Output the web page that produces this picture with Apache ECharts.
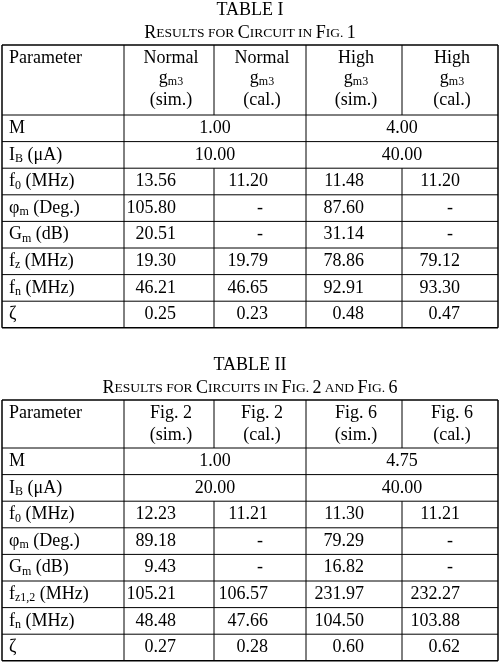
<!DOCTYPE html>
<html><head><meta charset="utf-8">
<script src="https://cdn.jsdelivr.net/npm/echarts@6/dist/echarts.min.js"></script>
<style>html,body{margin:0;background:#fff}#c{width:500px;height:662px}</style>
</head><body><div id="c"></div>
<script>
// === 資料 ===
const t1Title='TABLE I', t1Sub='Results for Circuit in Fig. 1';
const t1Head=[['Normal','g{s|m3}','(sim.)'],['Normal','g{s|m3}','(cal.)'],['High','g{s|m3}','(sim.)'],['High','g{s|m3}','(cal.)']];
const t1Params=['M','I{s|B} (μA)','f{s|0} (MHz)','φ{s|m} (Deg.)','G{s|m} (dB)','f{s|z} (MHz)','f{s|n} (MHz)','ζ'];
const t1Vals=[['1.00','4.00'],['10.00','40.00'],['13.56','11.20','11.48','11.20'],['105.80','-','87.60','-'],
  ['20.51','-','31.14','-'],['19.30','19.79','78.86','79.12'],['46.21','46.65','92.91','93.30'],['0.25','0.23','0.48','0.47']];

const t2Title='TABLE II', t2Sub='Results for Circuits in Fig. 2 and Fig. 6';
const t2Head=[['Fig. 2','(sim.)'],['Fig. 2','(cal.)'],['Fig. 6','(sim.)'],['Fig. 6','(cal.)']];
const t2Params=['M','I{s|B} (μA)','f{s|0} (MHz)','φ{s|m} (Deg.)','G{s|m} (dB)','f{s|z1,2} (MHz)','f{s|n} (MHz)','ζ'];
const t2Vals=[['1.00','4.75'],['20.00','40.00'],['12.23','11.21','11.30','11.21'],['89.18','-','79.29','-'],
  ['9.43','-','16.82','-'],['105.21','106.57','231.97','232.27'],['48.48','47.66','104.50','103.88'],['0.27','0.28','0.60','0.62']];

// === 版面 ===
const COLS=[2,124,214,306,402,498];
const FONT='"Liberation Serif","DejaVu Serif",serif';
const RICH={s:{fontSize:12,fontFamily:FONT,verticalAlign:'top',padding:[9,0,0,0],lineHeight:22},
  n:{fontSize:18,fontFamily:FONT,lineHeight:22}};

function txt(x,y,s,align,size){
  // 把普通字段包成 {n|...} 以便 rich 對齊
  var r=s.replace(/([^{}|]+)(?=\{|$)/g,function(m){return '{n|'+m+'}';});
  r=r.replace(/\{n\|([^}]*)\}(?=[^{]*\})/g,'$1');
  return {type:'text',x:x,y:y,style:{text:fix(s),rich:Object.assign({},RICH,size?{n:{fontSize:size,fontFamily:FONT,lineHeight:22}}:{}),
    fill:'#000',align:align||'center',verticalAlign:'middle'}};
}
function fix(s){
  // 拆成 token
  var out='',re=/\{s\|([^}]*)\}/g,last=0,m;
  while((m=re.exec(s))){ if(m.index>last) out+='{n|'+s.slice(last,m.index)+'}'; out+='{s|'+m[1]+'}'; last=re.lastIndex;}
  if(last<s.length) out+='{n|'+s.slice(last)+'}';
  return out;
}
function smallCaps(x,y,s){
  var out='';
  s.split(' ').forEach(function(w,i){
    if(i) out+='{c| }';
    var first=w.charAt(0), rest=w.slice(1);
    if(/[A-Z0-9]/.test(first)&&/[a-z]/.test(rest)) out+='{b|'+first+'}{c|'+rest.toUpperCase()+'}';
    else if(/[a-z]/.test(w)) out+='{c|'+w.toUpperCase()+'}';
    else out+='{b|'+w+'}';
  });
  return {type:'text',x:x,y:y,style:{text:out,align:'center',verticalAlign:'middle',fill:'#000',
    rich:{b:{fontSize:18,fontFamily:FONT},c:{fontSize:13.5,fontFamily:FONT}}}};
}
function line(x1,y1,x2,y2,w){return {type:'line',shape:{x1:x1,y1:y1,x2:x2,y2:y2},style:{stroke:'#000',lineWidth:w||1}};}

function table(top,title,sub,head,headY,params,vals,rowH){
  var g=[];
  g.push(txt(250,top+10,title,'center'));
  g.push(smallCaps(250,top+33,sub));
  var y0=top+45, hb=y0+headY.length*22+4+(headY.length===3?0:0);
  hb=headY.length===3?y0+70:y0+48;
  var bottom=hb+params.length*rowH;
  // 外框
  g.push(line(COLS[0],y0,COLS[5],y0,1.5),line(COLS[0],bottom,COLS[5],bottom,1.5));
  g.push(line(COLS[0],y0,COLS[0],bottom,1.5),line(COLS[5],y0,COLS[5],bottom,1.5));
  g.push(line(COLS[0],hb,COLS[5],hb,1));
  g.push(line(COLS[1],y0,COLS[1],bottom));
  // 表頭
  g.push(txt(COLS[0]+7,y0+13,'Parameter','left'));
  head.forEach(function(h,c){
    var cx=(COLS[c+1]+COLS[c+2])/2+2;
    h.forEach(function(s,k){ g.push(txt(cx,y0+13+headY[k],s,'center')); });
    if(c>0) g.push(line(COLS[c+1],y0,COLS[c+1],hb));
  });
  params.forEach(function(p,r){
    var ry=hb+r*rowH, cy=ry+rowH/2;
    if(r>0) g.push(line(COLS[0],ry,COLS[5],ry));
    g.push(txt(COLS[0]+7,cy,p,'left'));
    var v=vals[r];
    if(v.length===2){
      g.push(line(COLS[3],ry,COLS[3],ry+rowH));
      g.push(txt((COLS[1]+COLS[3])/2,cy,v[0],'center'));
      g.push(txt((COLS[3]+COLS[5])/2,cy,v[1],'center'));
    } else {
      v.forEach(function(s,c){
        if(c>0) g.push(line(COLS[c+1],ry,COLS[c+1],ry+rowH));
        if(s==='-') g.push(txt((COLS[c+1]+COLS[c+2])/2,cy,s,'center'));
        else g.push(txt(COLS[c+2]-38,cy,s,'right'));
      });
    }
  });
  return g;
}

var chart=echarts.init(document.getElementById('c'));
var els=[].concat(
  table(0,t1Title,t1Sub,t1Head,[0,20,42],t1Params,t1Vals,26.6),
  table(355,t2Title,t2Sub,t2Head,[0,22],t2Params,t2Vals,26.6)
);
chart.setOption({backgroundColor:'#fff',animation:false,graphic:{elements:els}});
</script></body></html>
